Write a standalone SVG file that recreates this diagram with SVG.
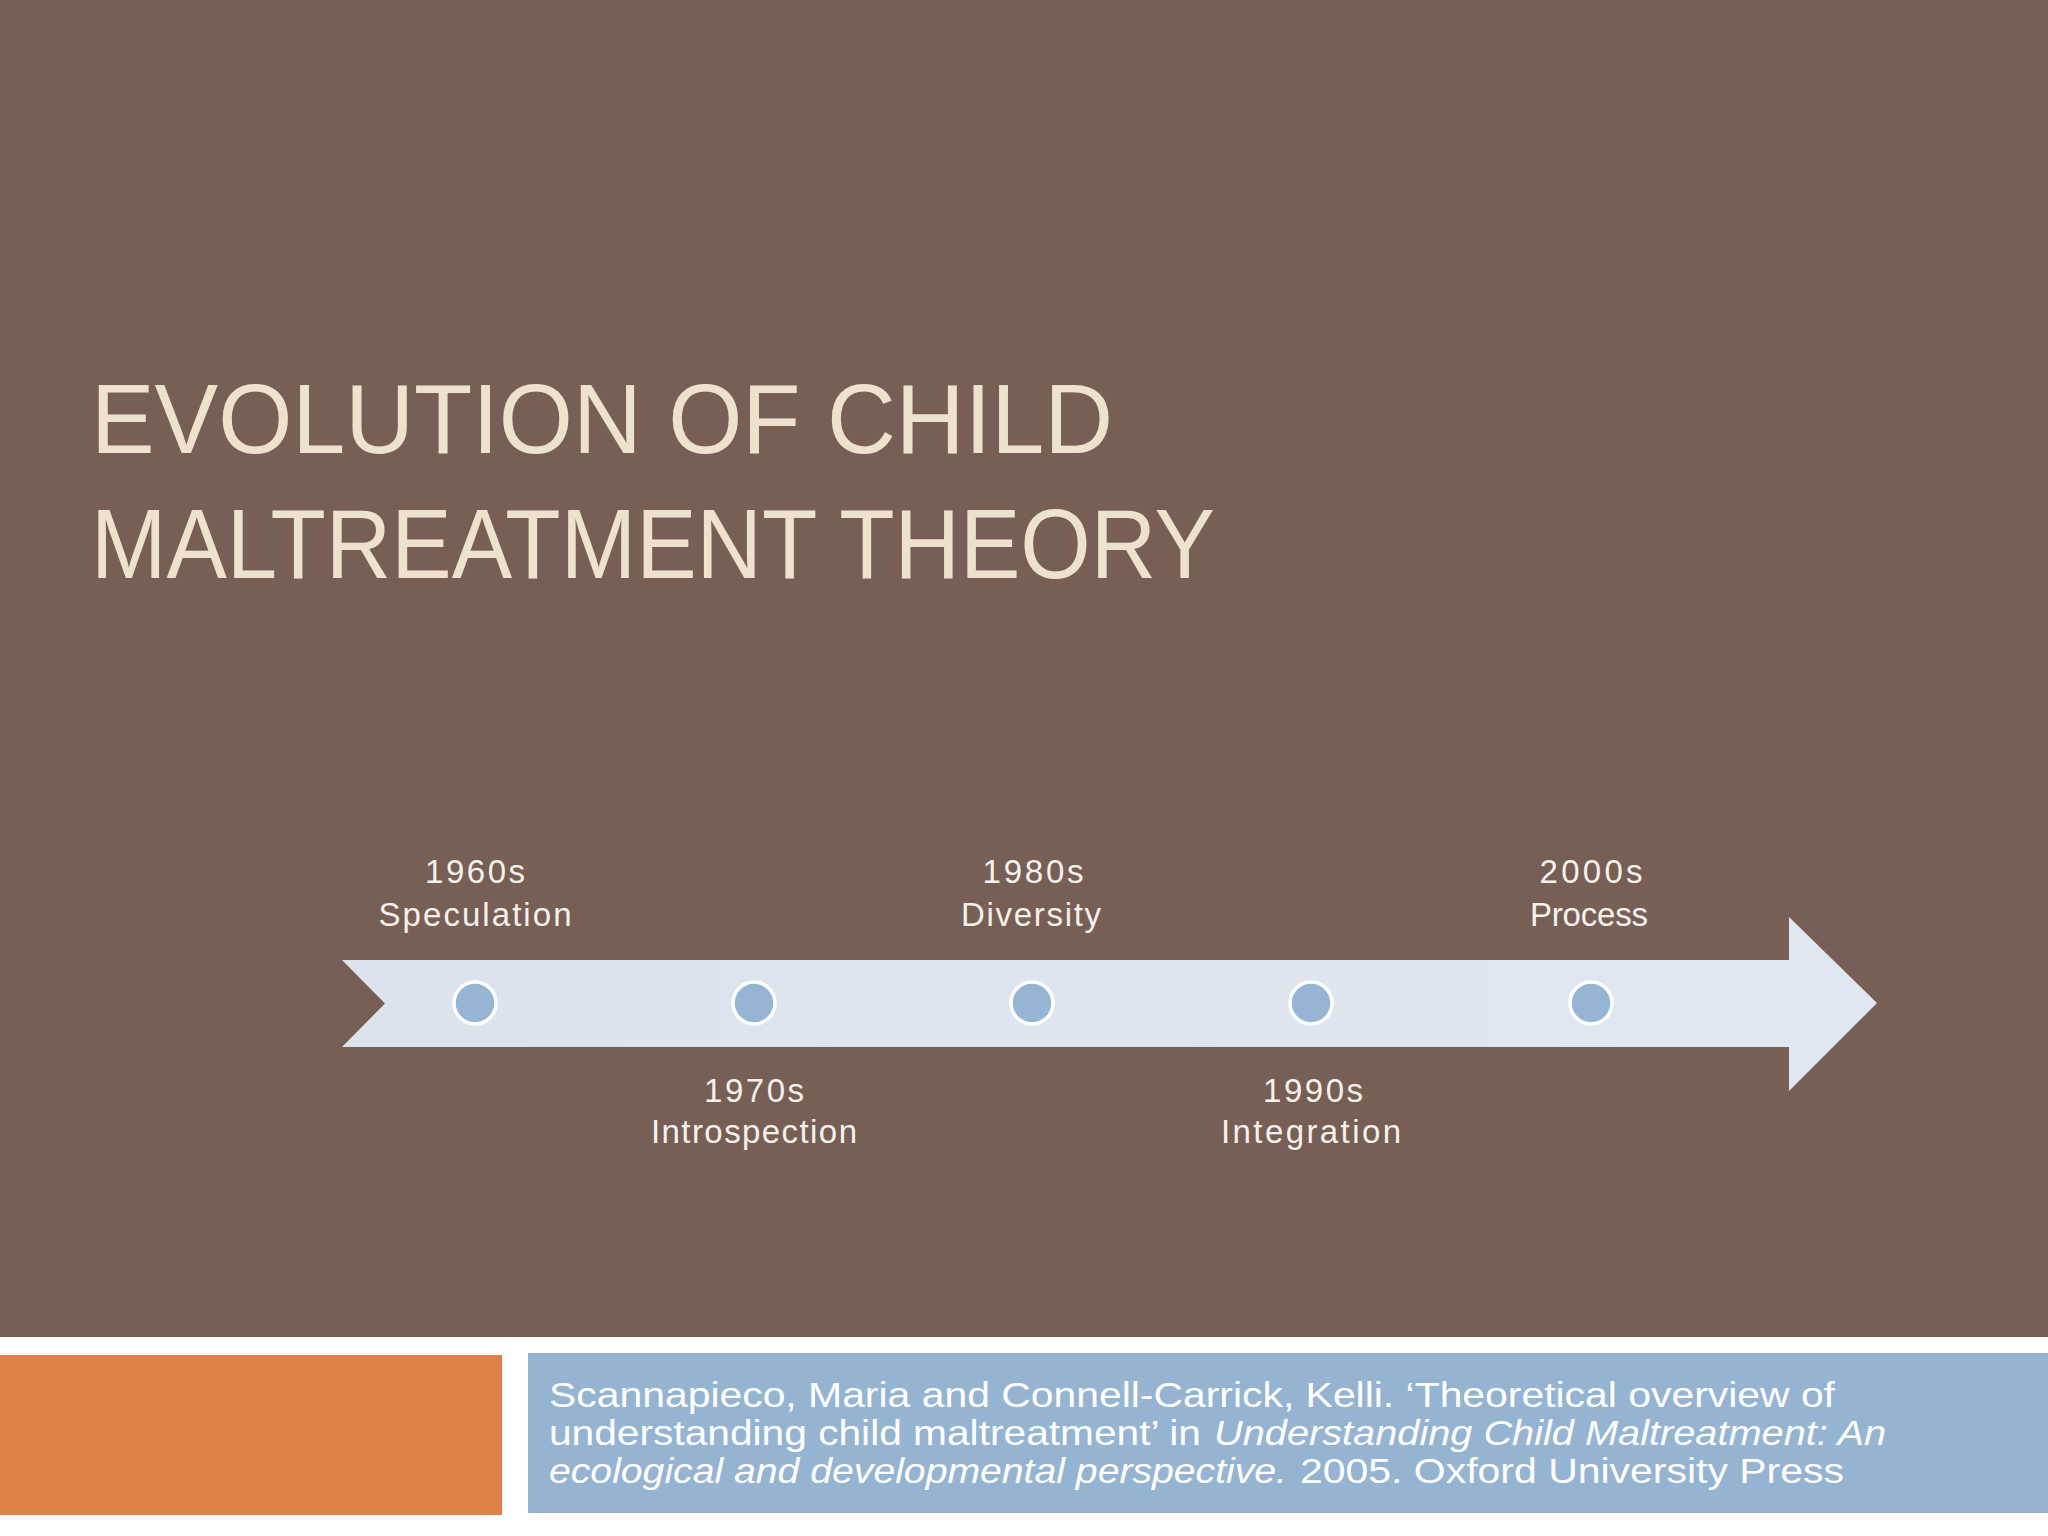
<svg xmlns="http://www.w3.org/2000/svg" width="2048" height="1536" viewBox="0 0 2048 1536">
<defs>
<linearGradient id="arrowGrad" x1="0" y1="0" x2="1" y2="0">
<stop offset="0" stop-color="#DBE3ED"/>
<stop offset="1" stop-color="#E1E7F0"/>
</linearGradient>
<style>
.title{font-family:"Liberation Sans",Arial,sans-serif;font-size:99px;fill:#EEE2CF;}
.lbl{font-family:"Liberation Sans",Arial,sans-serif;font-size:33px;fill:#F6F1EC;text-anchor:middle;}
.cite{font-family:"Liberation Sans",Arial,sans-serif;font-size:35px;fill:#FFFFFF;}
.it{font-style:italic;}
.dot{fill:#96B5D4;stroke:#FFFFFF;stroke-width:3.5;}
</style>
</defs>
<rect x="0" y="0" width="2048" height="1536" fill="#FFFFFF"/>
<rect x="0" y="0" width="2048" height="1337" fill="#775F56"/>

<g id="title">
<text class="title" x="91" y="453" textLength="1022" lengthAdjust="spacingAndGlyphs">EVOLUTION OF CHILD</text>
<text class="title" x="91" y="578" textLength="1124" lengthAdjust="spacingAndGlyphs">MALTREATMENT THEORY</text>
</g>

<g id="timeline-arrow">
<polygon points="342,960 1789,960 1789,917 1877,1003 1789,1091 1789,1047 342,1047 385,1003.5" fill="url(#arrowGrad)"/>
</g>

<g id="node-1960s">
<circle class="dot" cx="475" cy="1003" r="21"/>
<text class="lbl" x="475" y="883" textLength="100" lengthAdjust="spacing">1960s</text>
<text class="lbl" x="475" y="926" textLength="193" lengthAdjust="spacing">Speculation</text>
</g>
<g id="node-1970s">
<circle class="dot" cx="754" cy="1003" r="21"/>
<text class="lbl" x="754" y="1102" textLength="100" lengthAdjust="spacing">1970s</text>
<text class="lbl" x="754" y="1143" textLength="206" lengthAdjust="spacing">Introspection</text>
</g>
<g id="node-1980s">
<circle class="dot" cx="1032" cy="1003" r="21"/>
<text class="lbl" x="1033" y="883" textLength="101" lengthAdjust="spacing">1980s</text>
<text class="lbl" x="1031" y="926" textLength="140" lengthAdjust="spacing">Diversity</text>
</g>
<g id="node-1990s">
<circle class="dot" cx="1311" cy="1003" r="21"/>
<text class="lbl" x="1313" y="1102" textLength="100" lengthAdjust="spacing">1990s</text>
<text class="lbl" x="1311" y="1143" textLength="180" lengthAdjust="spacing">Integration</text>
</g>
<g id="node-2000s">
<circle class="dot" cx="1591" cy="1003" r="21"/>
<text class="lbl" x="1591" y="883" textLength="103" lengthAdjust="spacing">2000s</text>
<text class="lbl" x="1589" y="926" textLength="118" lengthAdjust="spacing">Process</text>
</g>

<g id="footer-accent">
<rect x="0" y="1355" width="502" height="160" fill="#DE8048"/>
</g>
<g id="citation">
<rect x="528" y="1353" width="1520" height="160" fill="#95B4D2"/>
<text class="cite" x="549" y="1407" textLength="1286" lengthAdjust="spacingAndGlyphs">Scannapieco, Maria and Connell-Carrick, Kelli. ‘Theoretical overview of</text>
<text class="cite" x="549" y="1445" textLength="652" lengthAdjust="spacingAndGlyphs">understanding child maltreatment’ in</text>
<text class="cite it" x="1214" y="1445" textLength="672" lengthAdjust="spacingAndGlyphs">Understanding Child Maltreatment: An</text>
<text class="cite it" x="549" y="1483" textLength="738" lengthAdjust="spacingAndGlyphs">ecological and developmental perspective.</text>
<text class="cite" x="1300" y="1483" textLength="544" lengthAdjust="spacingAndGlyphs">2005. Oxford University Press</text>
</g>
</svg>
